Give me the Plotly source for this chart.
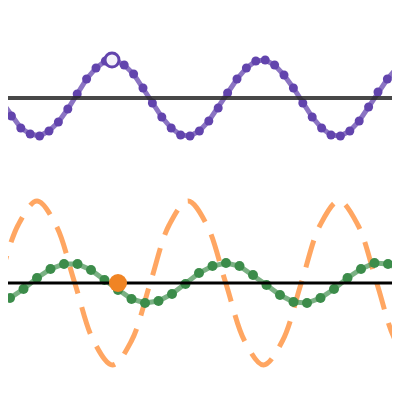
import plotly.graph_objects as go

# values, in pixel units (y grows downward)
purple_x = [2 + 9.4 * k for k in range(43)]
purple_y = [102, 116, 128, 134, 136, 131, 122, 109, 94, 79, 68, 61, 60, 65, 74, 88,
            103, 117, 128, 135, 136, 131, 121, 108, 93, 79, 68, 61, 60, 65, 75, 88,
            103, 117, 128, 135, 136, 131, 121, 107, 92, 79, 68]
hollow_x = [112]
hollow_y = [60]

green_x = [-3.5 + 13.5 * k for k in range(31)]
green_y = [303, 298, 289, 278, 269, 264, 264, 270, 280, 290, 299, 303, 301, 294, 284,
           273, 266, 263, 266, 275, 285, 295, 302, 303, 298, 289, 278, 269, 263, 264, 270]

orange_x = [-0.75 + 18.875 * k for k in range(23)]
orange_y = [283, 225, 201, 225, 283, 341, 365, 341, 283, 225, 201, 225, 283, 341, 365,
            341, 283, 225, 201, 225, 283, 341, 365]
dot_x = [118]
dot_y = [283]

line_x = [-20, 420]
gray_y = [98, 98]
black_y = [283, 283]

fig = go.Figure()

fig.add_trace(go.Scatter(x=purple_x, y=purple_y, mode='lines+markers',
                         line=dict(color='rgba(100,70,175,0.75)', width=5),
                         marker=dict(color='#6244ad', size=9)))
fig.add_trace(go.Scatter(x=line_x, y=gray_y, mode='lines',
                         line=dict(color='rgba(40,40,40,0.85)', width=4)))
fig.add_trace(go.Scatter(x=hollow_x, y=hollow_y, mode='markers',
                         marker=dict(color='#f4f2fa', size=14,
                                     line=dict(color='#6244ad', width=3))))

fig.add_trace(go.Scatter(x=orange_x, y=orange_y, mode='lines', line_shape='spline',
                         line=dict(color='rgba(255,150,70,0.85)', width=5, dash='28px,14px')))
fig.add_trace(go.Scatter(x=green_x, y=green_y, mode='lines+markers',
                         line=dict(color='rgba(50,135,65,0.65)', width=5),
                         marker=dict(color='#3c8c4a', size=10)))
fig.add_trace(go.Scatter(x=line_x, y=black_y, mode='lines',
                         line=dict(color='black', width=3)))
fig.add_trace(go.Scatter(x=dot_x, y=dot_y, mode='markers',
                         marker=dict(color='#f08424', size=18)))

# the page has an 8px body margin, so shift the ranges to line up with the window
fig.update_xaxes(range=[8, 408], visible=False)
fig.update_yaxes(range=[408, 8], visible=False)
fig.update_layout(width=400, height=400, margin=dict(l=0, r=0, t=0, b=0),
                  showlegend=False, plot_bgcolor='white', paper_bgcolor='white')

fig.write_html("out.html")
